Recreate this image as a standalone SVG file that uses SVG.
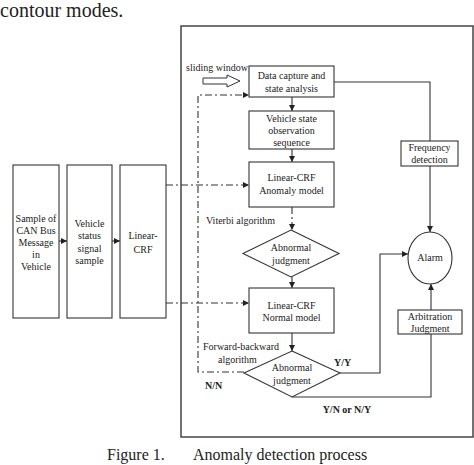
<svg xmlns="http://www.w3.org/2000/svg" width="474" height="465" viewBox="0 0 474 465">
<defs>
<style>
text{font-family:"Liberation Serif","Times New Roman",serif;font-size:10px;fill:#222;text-anchor:middle}
.b{font-weight:bold}
.l{text-anchor:start}
.box{fill:#fff;stroke:#333;stroke-width:1.1}
.ln{fill:none;stroke:#333;stroke-width:1.1}
.dd{fill:none;stroke:#333;stroke-width:1.1;stroke-dasharray:7,3,2,3}
</style>
<marker id="ah" viewBox="0 0 10 10" refX="10" refY="5" markerWidth="6" markerHeight="6" orient="auto" markerUnits="userSpaceOnUse">
<path d="M0,0 L10,5 L0,10 z" fill="#222"/>
</marker>
</defs>
<rect width="474" height="465" fill="#fff"/>
<text class="l" x="0" y="17" style="font-size:20px">contour modes.</text>
<rect x="181" y="26" width="292" height="411" fill="none" stroke="#444" stroke-width="1.5"/>

<g id="connectors">
<line class="ln" x1="59" y1="241" x2="67" y2="241" marker-end="url(#ah)"/>
<line class="ln" x1="112" y1="241" x2="120" y2="241" marker-end="url(#ah)"/>
<polyline class="dd" points="166,185 249,185" marker-end="url(#ah)"/>
<polyline class="dd" points="166,303 249,303" marker-end="url(#ah)"/>
<polyline class="dd" points="244,372 198,372 198,95 249,95" marker-end="url(#ah)"/>
<line class="ln" x1="292" y1="97" x2="292" y2="111" marker-end="url(#ah)"/>
<line class="ln" x1="292" y1="149" x2="292" y2="162" marker-end="url(#ah)"/>
<line class="dd" x1="292" y1="207" x2="292" y2="230" marker-end="url(#ah)"/>
<line class="ln" x1="292" y1="277" x2="292" y2="288" marker-end="url(#ah)"/>
<line class="ln" x1="292" y1="333" x2="292" y2="351" marker-end="url(#ah)"/>
<polyline class="ln" points="334,82 430,82 430,141"/>
<line class="ln" x1="430" y1="166" x2="430" y2="232" marker-end="url(#ah)"/>
<polyline class="ln" points="340,373 380,373 380,254 408,254" marker-end="url(#ah)"/>
<polyline class="ln" points="292,397 431,397 431,334"/>
<line class="ln" x1="431" y1="310" x2="431" y2="284" marker-end="url(#ah)"/>
<path d="M203,78 H227 V75 L240,81 L227,87 V84 H203 Z" fill="#fff" stroke="#333" stroke-width="1"/>
</g>

<g id="n-sample"><rect class="box" x="13" y="165" width="46" height="153"/>
<text x="36" y="222">Sample of</text><text x="36" y="234">CAN Bus</text><text x="36" y="246">Message</text><text x="36" y="258">in</text><text x="36" y="270">Vehicle</text></g>
<g id="n-vehicle"><rect class="box" x="67" y="165" width="45" height="153"/>
<text x="89.5" y="227">Vehicle</text><text x="89.5" y="239">status</text><text x="89.5" y="252">signal</text><text x="89.5" y="264">sample</text></g>
<g id="n-crf"><rect class="box" x="120" y="165" width="46" height="153"/>
<text x="143" y="239">Linear-</text><text x="143" y="253">CRF</text></g>

<g id="n-capture"><rect class="box" x="249" y="66" width="85" height="31"/>
<text x="291.5" y="79">Data capture and</text><text x="291.5" y="92">state analysis</text></g>
<g id="n-obs"><rect class="box" x="249" y="111" width="85" height="38"/>
<text x="291.5" y="122">Vehicle state</text><text x="291.5" y="134">observation</text><text x="291.5" y="146">sequence</text></g>
<g id="n-anomaly"><rect class="box" x="249" y="162" width="85" height="45"/>
<text x="291.5" y="181">Linear-CRF</text><text x="291.5" y="194">Anomaly model</text></g>
<g id="n-judge1"><polygon class="box" points="291,230 339,253.5 291,277 243,253.5"/>
<text x="291" y="251">Abnormal</text><text x="291" y="264">judgment</text></g>
<g id="n-normal"><rect class="box" x="249" y="288" width="85" height="45"/>
<text x="291.5" y="309">Linear-CRF</text><text x="291.5" y="321">Normal model</text></g>
<g id="n-judge2"><polygon class="box" points="292,351 340,373 292,397 244,373"/>
<text x="292" y="371">Abnormal</text><text x="292" y="384">judgment</text></g>
<g id="n-freq"><rect class="box" x="401" y="141" width="57" height="25"/>
<text x="429.5" y="151">Frequency</text><text x="429.5" y="163">detection</text></g>
<g id="n-alarm"><ellipse class="box" cx="430" cy="258" rx="22" ry="26"/>
<text x="430" y="261">Alarm</text></g>
<g id="n-arb"><rect class="box" x="398" y="310" width="64" height="24"/>
<text x="430" y="320">Arbitration</text><text x="430" y="332">Judgment</text></g>

<g id="labels">
<text class="l" x="186" y="71">sliding window</text>
<text class="l" x="206" y="224">Viterbi algorithm</text>
<text class="l" x="203" y="350">Forward-backward</text>
<text class="l" x="218" y="363">algorithm</text>
<text class="b l" x="205" y="389">N/N</text>
<text class="b l" x="334" y="366">Y/Y</text>
<text class="b" x="347" y="413">Y/N or N/Y</text>
</g>
<text class="l" x="107" y="460" style="font-size:16px">Figure 1.</text>
<text class="l" x="193" y="460" style="font-size:16px">Anomaly detection process</text>
</svg>
